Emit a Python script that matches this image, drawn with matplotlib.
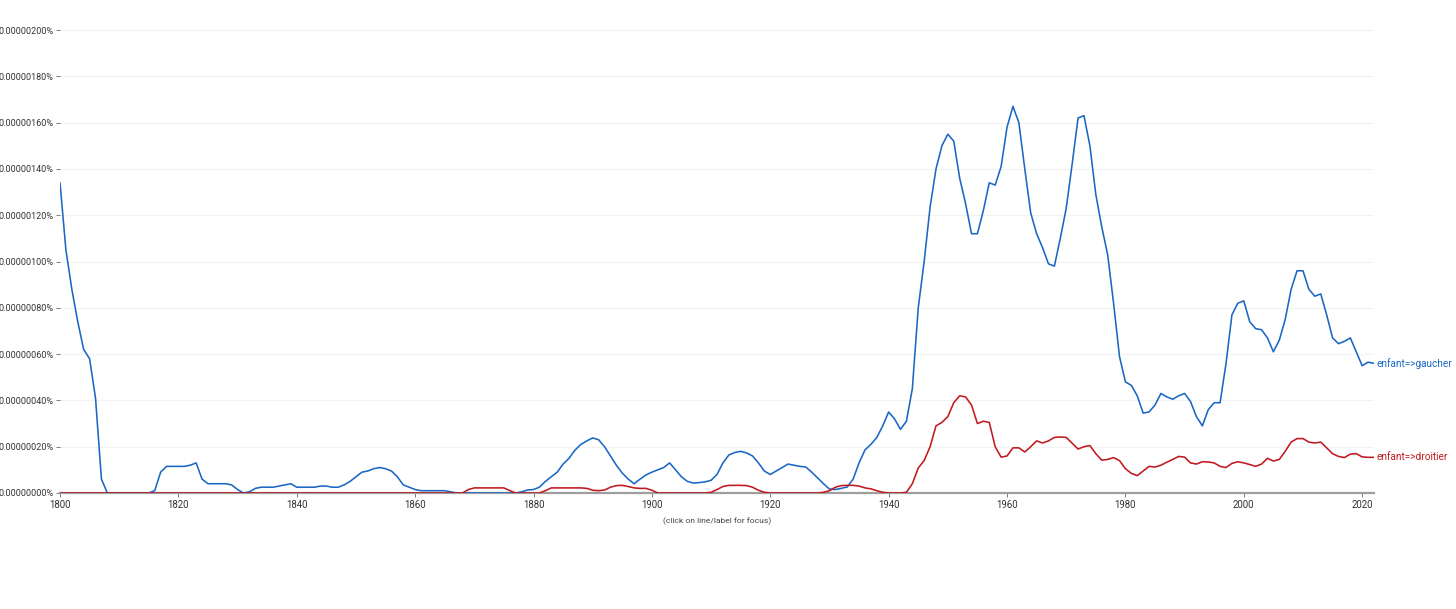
import matplotlib
matplotlib.use("Agg")
import matplotlib.pyplot as plt
import matplotlib.ticker as ticker

plt.rcParams["font.family"] = ["Roboto", "DejaVu Sans"]

# values in units of 1e-8 percent, one per year 1800..2022
YEARS = list(range(1800, 2023))

GAUCHER = [
    # 1800-1809
    134, 105, 88, 74, 62, 58, 41, 6, 0, 0,
    # 1810-1819
    0, 0, 0, 0, 0, 0, 1, 9, 11.5, 11.5,
    # 1820-1829
    11.5, 11.5, 12, 13, 6, 4, 4, 4, 4, 3.5,
    # 1830-1839
    1.5, 0, 0.5, 2, 2.5, 2.5, 2.5, 3, 3.5, 4,
    # 1840-1849
    2.5, 2.5, 2.5, 2.5, 3, 3, 2.5, 2.5, 3.5, 5,
    # 1850-1859
    7, 9, 9.5, 10.5, 11, 10.5, 9.5, 7, 3.5, 2.5,
    # 1860-1869
    1.5, 1, 1, 1, 1, 1, 0.5, 0, 0, 0,
    # 1870-1879
    0, 0, 0, 0, 0, 0, 0, 0, 0.5, 1.3,
    # 1880-1889
    1.5, 2.5, 5, 7, 9, 12.5, 15, 18.5, 21, 22.5,
    # 1890-1899
    23.8, 23, 20, 16, 12, 8.6, 6, 4, 6, 7.8,
    # 1900-1909
    9, 10, 11, 13, 10, 7, 5, 4.3, 4.5, 4.8,
    # 1910-1919
    5.5, 8, 13, 16.4, 17.5, 18, 17.3, 16, 13, 9.5,
    # 1920-1929
    8, 9.5, 11, 12.5, 12, 11.5, 11.2, 9, 6.5, 4,
    # 1930-1939
    1.7, 1.5, 2, 2.6, 6, 13, 18.6, 21, 24, 29,
    # 1940-1949
    35, 32, 27.5, 31, 45, 80, 100, 123.5, 140, 150,
    # 1950-1959
    155, 152, 136, 125, 112, 112, 122, 134, 133, 141,
    # 1960-1969
    158, 167, 160, 140, 121, 112, 106, 99, 98, 110,
    # 1970-1979
    123, 142, 162, 163, 150, 129, 115, 103, 82, 59,
    # 1980-1989
    48, 46.5, 42, 34.5, 35, 38, 43, 41.5, 40.5, 42,
    # 1990-1999
    43, 39.5, 33, 29, 36, 39, 39, 56, 77, 82,
    # 2000-2009
    83, 74, 71, 70.5, 67, 61, 66, 75, 88, 96,
    # 2010-2019
    96, 88, 85, 86, 77, 67, 64.5, 65.5, 67, 61,
    # 2020-2022
    55, 56.5, 56,
]

DROITIER = [
    # 1800-1859
    *([0] * 60),
    # 1860-1869
    0, 0, 0, 0, 0, 0, 0, 0, 0, 1.5,
    # 1870-1879
    2.2, 2.2, 2.2, 2.2, 2.2, 2.2, 1, 0, 0, 0,
    # 1880-1889
    0, 0, 1, 2.2, 2.2, 2.2, 2.2, 2.2, 2.2, 2,
    # 1890-1899
    1.2, 1, 1.3, 2.5, 3.2, 3.3, 2.8, 2.2, 2, 2,
    # 1900-1909
    1.2, 0, 0, 0, 0, 0, 0, 0, 0, 0,
    # 1910-1919
    0.3, 1.5, 2.8, 3.3, 3.3, 3.3, 3.2, 2.5, 1.2, 0.3,
    # 1920-1929
    0, 0, 0, 0, 0, 0, 0, 0, 0, 0.3,
    # 1930-1939
    1, 2.5, 3.2, 3.3, 3.3, 3, 2.2, 1.8, 1, 0.3,
    # 1940-1949
    0, 0, 0, 0.3, 4, 10.8, 14, 20, 29, 30.5,
    # 1950-1959
    33, 39, 42, 41.5, 38, 30, 31, 30.5, 20, 15.5,
    # 1960-1969
    16, 19.5, 19.5, 17.7, 20, 22.5, 21.6, 22.5, 24, 24.2,
    # 1970-1979
    24, 21.5, 19, 20, 20.5, 17, 14.2, 14.5, 15.3, 14,
    # 1980-1989
    10.5, 8.5, 7.5, 9.5, 11.5, 11.2, 12, 13.3, 14.5, 15.8,
    # 1990-1999
    15.5, 13, 12.5, 13.5, 13.4, 13, 11.5, 11, 12.8, 13.5,
    # 2000-2009
    13, 12.3, 11.5, 12.5, 15, 13.8, 14.5, 18, 22, 23.5,
    # 2010-2019
    23.5, 22, 21.6, 22, 19.5, 17, 15.8, 15.3, 16.8, 17,
    # 2020-2022
    15.6, 15.4, 15.4,
]

SERIES = [
    ("enfant=>gaucher", GAUCHER, "#1a67c4"),
    ("enfant=>droitier", DROITIER, "#c2181f"),
]
Y_TICKS = [0, 20, 40, 60, 80, 100, 120, 140, 160, 180, 200]
X_TICKS = [1800, 1820, 1840, 1860, 1880, 1900, 1920, 1940, 1960, 1980, 2000, 2020]
SCALE = 1e-8

fig = plt.figure(figsize=(14.56, 6.09), dpi=100)
ax = fig.add_axes((60 / 1456, 1 - 493 / 609, 1314 / 1456, 463 / 609))

for label, values, color in SERIES:
    ys = [v * SCALE for v in values]
    ax.plot(YEARS, ys, color=color, lw=1.15, solid_joinstyle="round",
            solid_capstyle="round", zorder=3)
    ax.annotate(
        label,
        xy=(YEARS[-1], ys[-1]),
        xytext=(2, 0),
        textcoords="offset points",
        va="center",
        ha="left",
        color=color,
        fontsize=7.2,
        annotation_clip=False,
    )

ax.set_xlim(1800, 2022)
ax.set_ylim(0, Y_TICKS[-1] * SCALE)
ax.set_yticks([t * SCALE for t in Y_TICKS])
ax.yaxis.set_major_formatter(ticker.FuncFormatter(lambda v, _: f"{v:.8f}%"))
ax.set_xticks(X_TICKS)

for side in ("top", "right", "left"):
    ax.spines[side].set_visible(False)
ax.spines["bottom"].set_color("#9e9e9e")
ax.spines["bottom"].set_linewidth(1.6)
ax.spines["bottom"].set_zorder(2)

ax.grid(axis="y", color="#f2f2f2", lw=0.8)
ax.set_axisbelow(True)
ax.tick_params(axis="y", length=3, width=0.6, color="#666666", pad=1.5,
               labelsize=6.5, labelcolor="#333333")
ax.tick_params(axis="x", length=3, width=0.6, color="#666666", pad=2,
               labelsize=6.9, labelcolor="#333333")

fig.text(717 / 1456, 1 - 521 / 609, "(click on line/label for focus)",
         ha="center", va="center", fontsize=6.1, color="#444444")

fig.savefig("out.png", dpi=100, facecolor="white")
